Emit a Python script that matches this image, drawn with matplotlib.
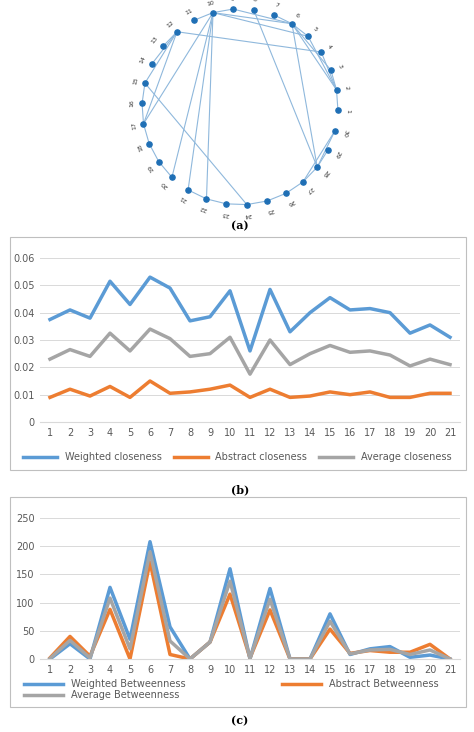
import numpy as np
import matplotlib
matplotlib.use("Agg")
import matplotlib.pyplot as plt
from matplotlib.patches import Rectangle

W, H = 474, 732
nodes = list(range(1, 31))
edges = [(10,11),(10,9),(10,6),(10,5),(10,20),(10,21),(10,22),(10,17),(9,6),(7,6),(6,5),(6,3),(6,2),
         (6,28),(8,28),(4,12),(4,2),(5,2),(3,2),(12,13),(12,15),(12,17),(12,14),(15,16),(16,17),(17,18),
         (15,24),(18,19),(19,20),(21,22),(22,23),(23,24),(24,25),(25,26),(26,27),(27,28),(28,30),(27,30),
         (29,28),(2,1)]

x_labels = [str(i) for i in range(1, 22)]
w_close = [0.0375,0.041,0.038,0.0515,0.043,0.053,0.049,0.037,0.0385,0.048,0.026,0.0485,0.033,0.040,0.0455,0.041,0.0415,0.040,0.0325,0.0355,0.031]
a_close = [0.009,0.012,0.0095,0.013,0.009,0.015,0.0105,0.011,0.012,0.0135,0.009,0.012,0.009,0.0095,0.011,0.010,0.011,0.009,0.009,0.0105,0.0105]
m_close = [0.023,0.0265,0.024,0.0325,0.026,0.034,0.0305,0.024,0.025,0.031,0.0175,0.030,0.021,0.025,0.028,0.0255,0.026,0.0245,0.0205,0.023,0.021]
w_betw = [0,27,0,127,35,208,57,0,30,160,0,125,0,0,80,8,18,22,3,7,0]
a_betw = [2,40,5,88,0,172,8,0,30,115,2,87,0,0,53,10,15,12,12,26,0]
m_betw = [1,33,2,108,18,190,32,0,30,138,1,106,0,0,67,9,16,17,8,16,0]

BLUE, ORANGE, GRAY = "#5b9bd5", "#ed7d31", "#a5a5a5"
TXT = "#595959"

fig = plt.figure(figsize=(W/100, H/100), dpi=100)

def fa(x0, y0, x1, y1):
    return fig.add_axes([x0/W, 1-y1/H, (x1-x0)/W, (y1-y0)/H])

# (a) network
ax = fa(118, 0, 362, 220)
ang = {k: np.deg2rad(-2 + 12*(k-1)) for k in nodes}
pos = {k: (np.cos(ang[k]), np.sin(ang[k])) for k in nodes}
for a, b in edges:
    ax.plot([pos[a][0], pos[b][0]], [pos[a][1], pos[b][1]], color="#8fb8dc", lw=0.8, zorder=1)
ax.scatter([pos[k][0] for k in nodes], [pos[k][1] for k in nodes], s=14, color="#1f6fb5", zorder=2)
for k in nodes:
    t = ang[k]
    ax.text(1.1*np.cos(t), 1.1*np.sin(t), str(k), fontsize=4.5, ha="center", va="center",
            rotation=np.rad2deg(t) - 90, color="#333333")
ax.set_xlim(-1.245, 1.245); ax.set_ylim(-1.155, 1.09)
ax.axis("off")
fig.text(240/W, 1-226/H, "(a)", ha="center", va="center", fontsize=8, fontweight="bold", family="DejaVu Serif")

def box(x0, y0, x1, y1):
    fig.patches.append(Rectangle((x0/W, 1-y1/H), (x1-x0)/W, (y1-y0)/H, transform=fig.transFigure,
                                 fill=False, edgecolor="#bfbfbf", lw=0.8))

def style(ax, yt):
    ax.set_yticks(yt)
    ax.set_xticks(range(1, 22)); ax.set_xticklabels(x_labels)
    ax.set_xlim(0.5, 21.5)
    ax.grid(axis="y", color="#d9d9d9", lw=0.7)
    ax.set_axisbelow(True)
    for s in ["top", "right", "left"]:
        ax.spines[s].set_visible(False)
    ax.spines["bottom"].set_color("#d9d9d9")
    ax.tick_params(length=0, labelsize=7, colors=TXT, pad=4)

x = np.arange(1, 22)
# (b)
box(10, 237, 466, 470)
ax = fa(40, 258, 460, 422)
ax.plot(x, w_close, color=BLUE, lw=2.5, label="Weighted closeness")
ax.plot(x, a_close, color=ORANGE, lw=2.5, label="Abstract closeness")
ax.plot(x, m_close, color=GRAY, lw=2.5, label="Average closeness")
ax.set_ylim(0, 0.06)
style(ax, [0, 0.01, 0.02, 0.03, 0.04, 0.05, 0.06])
ax.set_yticklabels(["0", "0.01", "0.02", "0.03", "0.04", "0.05", "0.06"])
ax.legend(loc="upper center", bbox_to_anchor=(0.47, -0.13), ncol=3, frameon=False, fontsize=7,
          labelcolor=TXT, handlelength=3.5, columnspacing=1.2)
fig.text(240/W, 1-490/H, "(b)", ha="center", va="center", fontsize=8, fontweight="bold", family="DejaVu Serif")

# (c)
box(10, 497, 466, 707)
ax = fa(40, 518, 460, 659)
l1, = ax.plot(x, w_betw, color=BLUE, lw=2.5, label="Weighted Betweenness")
l2, = ax.plot(x, a_betw, color=ORANGE, lw=2.5, label="Abstract Betweenness")
l3, = ax.plot(x, m_betw, color=GRAY, lw=2.5, label="Average Betweenness")
ax.set_ylim(0, 250)
style(ax, [0, 50, 100, 150, 200, 250])
ax.legend([l1, l3, l2], [l1.get_label(), l3.get_label(), l2.get_label()],
          loc="upper left", bbox_to_anchor=(-0.05, -0.11), ncol=2, frameon=False, fontsize=7,
          labelcolor=TXT, handlelength=4, columnspacing=10, labelspacing=0.1, borderpad=0)
fig.text(240/W, 1-721/H, "(c)", ha="center", va="center", fontsize=8, fontweight="bold", family="DejaVu Serif")

fig.savefig("out.png", dpi=100)
